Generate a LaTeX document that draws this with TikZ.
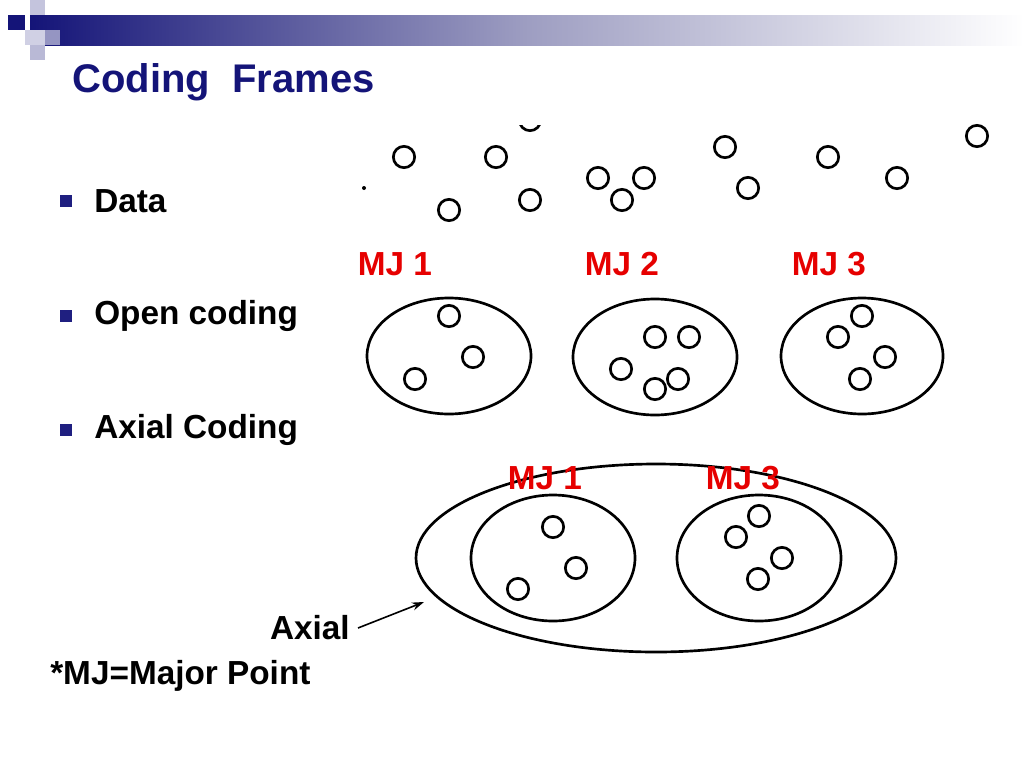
\documentclass[tikz,border=0pt]{standalone}
\usepackage{fontspec}
\setmainfont{Liberation Sans}
\usetikzlibrary{arrows.meta}
\begin{document}
\begin{tikzpicture}[x=0.75pt,y=-0.75pt,
  dot/.style={draw,line width=2pt,circle,minimum size=16pt,inner sep=0pt},
  txt/.style={font=\fontsize{25}{29}\selectfont\bfseries,inner sep=0pt},
  red/.style={txt,text={rgb,255:red,230;green,0;blue,0}},
  bul/.style={fill={rgb,255:red,31;green,31;blue,128},minimum size=9pt,inner sep=0pt}]
\useasboundingbox (0,0) rectangle (1024,768);
\definecolor{navy}{RGB}{20,20,120}
\shade[left color=navy,right color=white,middle color=navy!40!white!90!gray] (30,15) rectangle (1024,45);
\fill[navy] (8,15) rectangle (25,30);
\fill[navy!25] (30,0) rectangle (45,15);
\fill[navy!20] (25,30) rectangle (45,45);
\fill[navy!45] (45,30) rectangle (60,45);
\fill[navy!30] (30,45) rectangle (45,60);
\node[anchor=west,font=\fontsize{30}{34}\selectfont\bfseries,text=navy,inner sep=0pt] (title) at (72,82) {Coding\ \ Frames};
\node[bul] (b1) at (66,201) {}; \node[txt,anchor=west] (t1) at (94,201) {Data};
\node[bul] (b2) at (66,316) {}; \node[txt,anchor=west] (t2) at (94,316) {Open coding};
\node[bul] (b3) at (66,430) {}; \node[txt,anchor=west] (t3) at (94,430) {Axial Coding};
\node[txt,anchor=west] (t4) at (50,676) {*MJ=Major Point};
\node[txt,anchor=east] (ax) at (350,628) {Axial};
\foreach \x/\y [count=\i] in {404/157,496/157,449/210,530/200,598/178,644/178,622/200,725/147,748/188,828/157,897/178,977/136}
  \node[dot] (d\i) at (\x,\y) {};
\begin{scope}
\clip (500,125) rectangle (560,160);
\node[dot] (d0) at (530,120) {};
\end{scope}
\fill (364,188) circle (2);
\node[red] (m1) at (395,264) {MJ 1};
\node[red] (m2) at (622,264) {MJ 2};
\node[red] (m3) at (829,264) {MJ 3};
\begin{scope}[line width=2pt]
\draw (449,356) ellipse (82 and 58);
\draw (655,357) ellipse (82 and 58);
\draw (862,356) ellipse (81 and 58);
\draw (656,558) ellipse (240 and 94);
\draw (553,558) ellipse (82 and 63);
\draw (759,558) ellipse (82 and 63);
\end{scope}
\foreach \x/\y [count=\i] in {449/316,473/357,415/379,655/337,689/337,621/369,678/379,655/389,862/316,838/337,885/357,860/379}
  \node[dot] (o\i) at (\x,\y) {};
\foreach \x/\y [count=\i] in {553/527,576/568,518/589,759/516,736/537,782/558,758/579}
  \node[dot] (a\i) at (\x,\y) {};
\node[red] (x1) at (545,478) {MJ 1};
\node[red] (x3) at (743,478) {MJ 3};
\coordinate (tip) at (424,602);
\draw[line width=1.2pt,-{Stealth[length=9pt,width=6pt]}] (ax.east) ++(8,0) -- (tip);
\end{tikzpicture}
\end{document}
